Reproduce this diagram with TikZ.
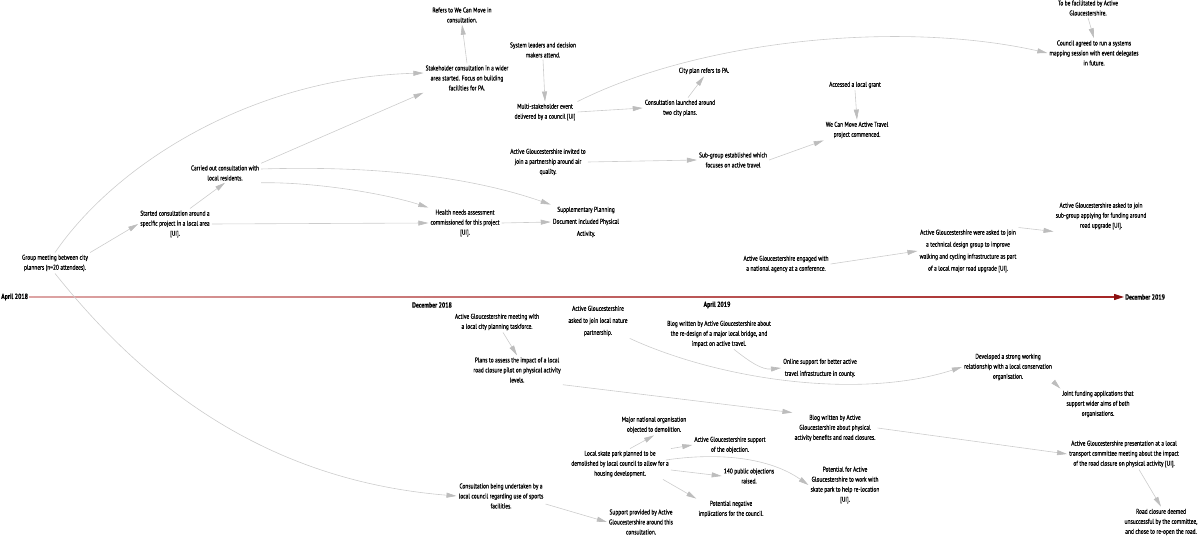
\documentclass[tikz,border=0pt]{standalone}
\usepackage{fontspec}
\setmainfont{PT Sans}[FakeStretch=0.78,FakeBold=0.3]
\usetikzlibrary{arrows.meta,calc}
\definecolor{edgegray}{HTML}{CCCCCC}
\definecolor{tipgray}{HTML}{BDBDBD}
\definecolor{tlL}{HTML}{DDA5A5}
\definecolor{tlR}{HTML}{A52525}
\definecolor{tltip}{HTML}{8B1010}
\begin{document}
\begin{tikzpicture}[x=1pt,y=-1pt,
  ev/.style={align=center,font=\fontsize{7}{10}\selectfont,text=black,inner sep=2pt},
  evw/.style={ev,font=\fontsize{7}{12}\selectfont},
  conn/.style={draw=edgegray,line width=0.6pt,-{Triangle[length=10pt,width=5pt,color=tipgray]}},
  datelbl/.style={font=\fontsize{7.5}{9}\selectfont\bfseries,inner sep=1pt}]
\useasboundingbox (0,0) rectangle (1200,537);

% timeline
\node[datelbl,anchor=west] (apr18) at (0,297) {April 2018};
\node[datelbl,anchor=west] (dec19) at (1124,297) {December 2019};
\node[datelbl] (dec18) at (432,305) {December 2018};
\node[datelbl] (apr19) at (717,305) {April 2019};
\shade[left color=tlL,right color=tlR] ($(apr18.east)+(0,-0.5)$) rectangle ($(dec19.west)+(-9,0.5)$);
\draw[tltip,line width=1pt,-{Triangle[length=10pt,width=6pt,color=tltip]}] ($(dec19.west)+(-10,0)$) -- (dec19.west);

% upper events
\node[ev] (G) at (55,263) {Group meeting between city\\planners (n=20 attendees).};
\node[ev] (S) at (175,224) {Started consultation around a\\specific project in a local area\\{}[UI].};
\node[ev] (C) at (225,173) {Carried out consultation with\\local residents.};
\node[ev] (SC) at (467,78) {Stakeholder consultation in a wider\\area started. Focus on building\\facilities for PA.};
\node[ev] (R) at (462,15) {Refers to We Can Move in\\consultation.};
\node[ev] (SL) at (543,50) {System leaders and decision\\makers attend.};
\node[ev] (M) at (545,112) {Multi-stakeholder event\\delivered by a council [UI]};
\node[ev] (AI) at (548,162) {Active Gloucestershire invited to\\join a partnership around air\\quality.};
\node[ev] (CL) at (680,108) {Consultation launched around\\two city plans.};
\node[ev] (CP) at (704,71) {City plan refers to PA.};
\node[ev] (SG) at (733,160) {Sub-group established which\\focuses on active travel};
\node[ev] (AG) at (855,85) {Accessed a local grant};
\node[ev] (WCM) at (857,130) {We Can Move Active Travel\\project commenced.};
\node[ev] (TF) at (1088,8) {To be facilitated by Active\\Gloucestershire.};
\node[ev] (CA) at (1094,53) {Council agreed to run a systems\\mapping session with event delegates\\in future.};
\node[ev] (HN) at (465,223) {Health needs assessment\\commissioned for this project\\{}[UI].};
\node[evw] (SP) at (586,222) {Supplementary Planning\\Document included Physical\\Activity.};
\node[ev] (EN) at (786,264) {Active Gloucestershire engaged with\\a national agency at a conference.};
\node[evw] (TD) at (968,251) {Active Gloucestershire were asked to join\\a technical design group to improve\\walking and cycling infrastructure as part\\of a local major road upgrade [UI].};
\node[ev] (SF) at (1101,216) {Active Gloucestershire asked to join\\sub-group applying for funding around\\road upgrade [UI].};

% lower events
\node[ev] (MT) at (497,322) {Active Gloucestershire meeting with\\a local city planning taskforce.};
\node[ev] (PL) at (517,370) {Plans to assess the impact of a local\\road closure pilot on physical activity\\levels.};
\node[evw] (LN) at (598,321) {Active Gloucestershire\\asked to join local nature\\partnership.};
\node[ev] (BB) at (719,334) {Blog written by Active Gloucestershire about\\the re-design of a major local bridge, and\\impact on active travel.};
\node[evw] (OS) at (820,368) {Online support for better active\\travel infrastructure in county.};
\node[ev] (DR) at (1008,367) {Developed a strong working\\relationship with a local conservation\\organisation.};
\node[ev] (JF) at (1098,404) {Joint funding applications that\\support wider aims of both\\organisations.};
\node[ev] (BP) at (835,428) {Blog written by Active\\Gloucestershire about physical\\activity benefits and road closures.};
\node[ev] (PR) at (1124,454) {Active Gloucestershire presentation at a local\\transport committee meeting about the impact\\of the road closure on physical activity [UI].};
\node[ev] (RC) at (1161,522) {Road closure deemed\\unsuccessful by the committee,\\and chose to re-open the road.};
\node[ev] (MN) at (654,425) {Major national organisation\\objected to demolition.};
\node[ev] (SK) at (620,464) {Local skate park planned to be\\demolished by local council to allow for a\\housing development.};
\node[ev] (SO) at (730,445) {Active Gloucestershire support\\of the objection.};
\node[ev] (PO) at (749,476) {140 public objections\\raised.};
\node[ev] (PN) at (731,509) {Potential negative\\implications for the council.};
\node[ev] (PA) at (845,485) {Potential for Active\\Gloucestershire to work with\\skate park to help re-location\\{}[UI].};
\node[ev] (CU) at (501,496) {Consultation being undertaken by a\\local council regarding use of sports\\facilities.};
\node[ev] (SU) at (641,522) {Support provided by Active\\Gloucestershire around this\\consultation.};

% connectors (upper)
\draw[conn] (G.north east) -- (S.west);
\draw[conn] (G.north) .. controls (115,165) and (250,78) .. ([yshift=5pt]SC.west);
\draw[conn] (G.south) .. controls (140,380) and (260,480) .. (CU.west);
\draw[conn] (S.north) ++(15,0) coordinate (s1) (s1) -- (C.south);
\draw[conn] (S.east) -- (HN.west);
\draw[conn] (C.north east) -- (SC.south west);
\draw[conn] (C.south east) .. controls (320,182) and (390,195) .. (HN.north west);
\draw[conn] ([yshift=4pt]C.east) .. controls (390,165) and (480,180) .. (SP.north west);
\draw[conn] (HN.east) -- (SP.west);
\draw[conn] (SC.north) -- (R.south);
\draw[conn] (SL.south) -- (M.north);
\draw[conn] (M.east) -- (CL.west);
\draw[conn] (M.north east) .. controls (700,40) and (900,20) .. (CA.west);
\draw[conn] (CL.north) ++(8,0) coordinate (cl1) (cl1) -- (CP.south);
\draw[conn] (AI.east) -- (SG.west);
\draw[conn] (SG.east) -- (WCM.south west);
\draw[conn] (AG.south) -- (WCM.north);
\draw[conn] (TF.south) -- (CA.north);
\draw[conn] (EN.east) -- (TD.west);
\draw[conn] (TD.north east) -- (SF.south west);

% connectors (lower)
\draw[conn] (MT.south) ++(6,0) coordinate (mt1) (mt1) -- (PL.north);
\draw[conn] (PL.south east) -- (BP.north west);
\draw[conn] (LN.south east) .. controls (720,380) and (860,400) .. (DR.west);
\draw[conn] (BB.south) ++(15,0) coordinate (bb1) (bb1) .. controls (750,362) and (762,370) .. (OS.west);
\draw[conn] (DR.south east) -- (JF.north west);
\draw[conn] (BP.east) -- (PR.west);
\draw[conn] (PR.south) ++(15,0) coordinate (pr1) (pr1) -- (RC.north);
\draw[conn] (SK.north) ++(10,0) coordinate (sk1) (sk1) -- (MN.south);
\draw[conn] (SK.north east) -- (SO.west);
\draw[conn] (SK.east) ++(-5,-4) coordinate (sk2) (sk2) .. controls (720,452) and (770,458) .. (PA.west);
\draw[conn] (SK.east) ++(0,6) coordinate (sk3) (sk3) -- (PO.west);
\draw[conn] (SK.south east) ++(-8,0) coordinate (sk4) (sk4) -- (PN.north west);
\draw[conn] (CU.east) ++(0,8) coordinate (cu1) (cu1) -- (SU.west);
\end{tikzpicture}
\end{document}
